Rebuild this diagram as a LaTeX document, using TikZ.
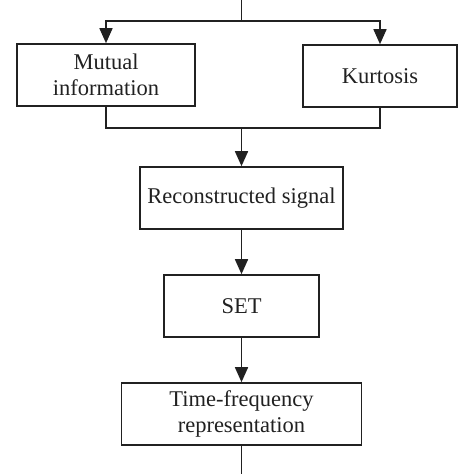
\documentclass[tikz,border=0pt]{standalone}
\usepackage{fontspec}
\setmainfont{Liberation Serif}
\usetikzlibrary{arrows.meta}
\begin{document}
\begin{tikzpicture}[x=1pt,y=1pt,
  box/.style={draw=black!87, line width=1.6pt, minimum height=62pt, inner sep=0pt, align=center,
    font=\fontsize{22.5}{26}\selectfont, text=black!87},
  conn/.style={draw=black!87, line width=1.6pt},
  arr/.style={conn, -{Triangle[width=13pt,length=15pt]}}]
\useasboundingbox (0,0) rectangle (474,-474);
\node[box, minimum width=178pt] (mi) at (106,-75) {Mutual\\information};
\node[box, minimum width=154pt] (ku) at (380,-76) {Kurtosis};
\node[box, minimum width=203pt] (rs) at (241.5,-198) {Reconstructed signal};
\node[box, minimum width=155pt] (set) at (241.5,-306) {SET};
\node[box, minimum width=240pt] (tf) at (241.5,-414) {Time-frequency\\representation};
\coordinate (top) at (241.5,0);
\coordinate (split) at (241.5,-21);
\coordinate (join) at (241.5,-128);
\coordinate (bot) at (241.5,-474);
\draw[conn] (top) -- (split);
\draw[arr] (split) -| (mi.north);
\draw[arr] (split) -| (ku.north);
\draw[conn] (mi.south) |- (join);
\draw[conn] (ku.south) |- (join);
\draw[arr] (join) -- (rs.north);
\draw[arr] (rs.south) -- (set.north);
\draw[arr] (set.south) -- (tf.north);
\draw[conn] (tf.south) -- (bot);
\end{tikzpicture}
\end{document}
